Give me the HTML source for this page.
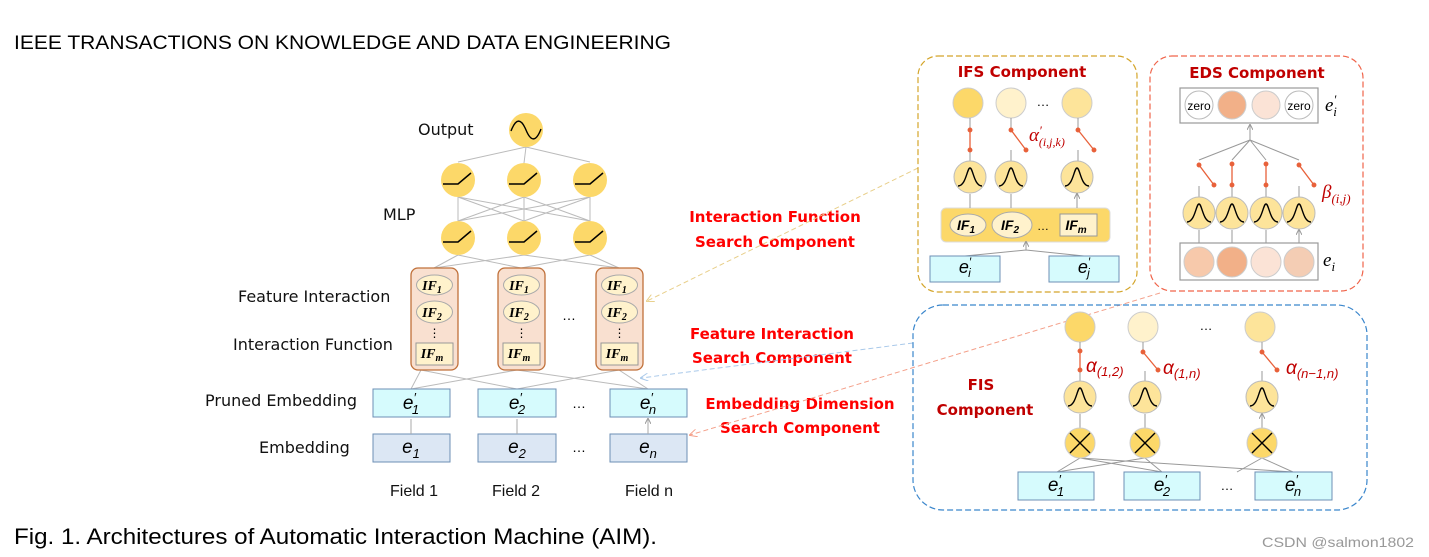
<!DOCTYPE html>
<html><head><meta charset="utf-8"><style>
html,body{margin:0;padding:0;background:#fff;}
svg{display:block;}
text{font-family:"Liberation Sans",sans-serif;}
.m{font-family:"Liberation Serif",serif;font-style:italic;}
.rb{font-family:"DejaVu Sans","Liberation Sans",sans-serif;font-weight:bold;fill:#f00;font-size:15px;}
.db{font-family:"DejaVu Sans","Liberation Sans",sans-serif;font-weight:bold;fill:#c00000;font-size:15px;}
.lb{font-family:"DejaVu Sans","Liberation Sans",sans-serif;font-size:16px;fill:#111;}
</style></head><body>
<svg width="1429" height="557" viewBox="0 0 1429 557" xmlns="http://www.w3.org/2000/svg">
<defs>
<g id="relu"><circle r="17" fill="#fcd869"/><path d="M-15,4 H0 L13,-7" stroke="#000" stroke-width="1.5" fill="none"/></g>
<g id="gau"><circle r="16" fill="#fde49a" stroke="#bbb" stroke-width="1"/><path d="M-12,9 C-4,9 -3,-9 0,-9 C3,-9 4,9 12,9" stroke="#000" stroke-width="1.4" fill="none"/></g>
<g id="mul"><circle r="15" fill="#fcd869" stroke="#ccc"/><path d="M-10,-10 L10,10 M10,-10 L-10,10" stroke="#000" stroke-width="1.4"/></g>
<marker id="ar" markerWidth="6" markerHeight="6" refX="5" refY="3" orient="auto"><path d="M0,0 L6,3 L0,6" fill="none" stroke="#999" stroke-width="1"/></marker>
<marker id="ay" markerWidth="8" markerHeight="8" refX="7" refY="4" orient="auto"><path d="M0,0 L8,4 L0,8" fill="none" stroke="#e8cf8a" stroke-width="1"/></marker>
<marker id="ab" markerWidth="8" markerHeight="8" refX="7" refY="4" orient="auto"><path d="M0,0 L8,4 L0,8" fill="none" stroke="#a9c9ea" stroke-width="1"/></marker>
<marker id="ao" markerWidth="8" markerHeight="8" refX="7" refY="4" orient="auto"><path d="M0,0 L8,4 L0,8" fill="none" stroke="#f4a08a" stroke-width="1"/></marker>
</defs>

<text x="14" y="49" font-size="19" textLength="657" lengthAdjust="spacingAndGlyphs">IEEE TRANSACTIONS ON KNOWLEDGE AND DATA ENGINEERING</text>
<text x="14" y="544" font-size="22" textLength="643" lengthAdjust="spacingAndGlyphs">Fig. 1. Architectures of Automatic Interaction Machine (AIM).</text>
<text x="1262" y="547" font-size="14" fill="#999" textLength="152" lengthAdjust="spacingAndGlyphs">CSDN @salmon1802</text>

<g stroke="#bbb" stroke-width="1" fill="none">
<path d="M526,147 L458,162 M526,147 L524,163 M526,147 L590,162"/>
<path d="M458,197 V221 M524,197 V221 M590,197 V221 M458,197 L524,221 M458,197 L590,221 M524,197 L458,221 M524,197 L590,221 M590,197 L458,221 M590,197 L524,221"/>
<path d="M458,255 L434,268 M524,255 L434,268 M458,255 L521,268 M590,255 L521,268 M524,255 L619,268 M590,255 L619,268"/>
<path d="M421,370 L411,389 M421,370 L517,389 M517,370 L411,389 M517,370 L648,389 M619,370 L517,389 M619,370 L648,389"/>
</g>
<circle cx="526" cy="130" r="17" fill="#fcd869"/>
<path d="M511,131 C516,118 521,118 526,130 C531,142 536,142 541,129" stroke="#000" stroke-width="1.4" fill="none"/>
<use href="#relu" x="458" y="180"/><use href="#relu" x="524" y="180"/><use href="#relu" x="590" y="180"/>
<use href="#relu" x="458" y="238"/><use href="#relu" x="524" y="238"/><use href="#relu" x="590" y="238"/>

<g id="ifb">
<rect x="411" y="268" width="47" height="102" rx="7" fill="#f9e0d0" stroke="#c0703a" stroke-width="1.3"/>
<ellipse cx="434.5" cy="285" rx="18" ry="10" fill="#fff2cc" stroke="#aaa"/>
<text x="432" y="290" class="m" font-size="14" font-weight="bold" text-anchor="middle">IF<tspan font-size="10" dy="3">1</tspan></text>
<ellipse cx="434.5" cy="312" rx="18" ry="11" fill="#fff2cc" stroke="#aaa"/>
<text x="432" y="317" class="m" font-size="14" font-weight="bold" text-anchor="middle">IF<tspan font-size="10" dy="3">2</tspan></text>
<text x="434.5" y="337" font-size="12" text-anchor="middle">⋮</text>
<rect x="416" y="343" width="37" height="22" fill="#fff2cc" stroke="#999"/>
<text x="432" y="358" class="m" font-size="14" font-weight="bold" text-anchor="middle">IF<tspan font-size="10" dy="3">m</tspan></text>
</g>
<use href="#ifb" x="87"/><use href="#ifb" x="185"/>
<text x="569" y="320" font-size="14" text-anchor="middle">…</text>

<text x="418" y="135" class="lb">Output</text>
<text x="383" y="220" class="lb">MLP</text>
<text x="238" y="302" class="lb">Feature Interaction</text>
<text x="233" y="350" class="lb">Interaction Function</text>
<text x="205" y="406" class="lb">Pruned Embedding</text>
<text x="259" y="453" class="lb">Embedding</text>

<g stroke="#6d8fb5" stroke-width="1">
<rect x="373" y="389" width="77" height="28" fill="#d6fbfd"/><rect x="478" y="389" width="78" height="28" fill="#d6fbfd"/><rect x="610" y="389" width="77" height="28" fill="#d6fbfd"/>
<rect x="373" y="434" width="77" height="28" fill="#dce7f4"/><rect x="478" y="434" width="78" height="28" fill="#dce7f4"/><rect x="610" y="434" width="77" height="28" fill="#dce7f4"/>
</g>
<g stroke="#aaa"><path d="M411,434 V419 M517,434 V419 M648,434 V419" marker-end="url(#ar)"/></g>
<g class="m" font-size="19" text-anchor="middle">
<text x="411" y="409">e<tspan font-size="13" dy="-7">′</tspan><tspan font-size="13" dx="-4" dy="12">1</tspan></text>
<text x="517" y="409">e<tspan font-size="13" dy="-7">′</tspan><tspan font-size="13" dx="-4" dy="12">2</tspan></text>
<text x="648" y="409">e<tspan font-size="13" dy="-7">′</tspan><tspan font-size="13" dx="-4" dy="12">n</tspan></text>
<text x="411" y="453">e<tspan font-size="13" dy="5">1</tspan></text>
<text x="517" y="453">e<tspan font-size="13" dy="5">2</tspan></text>
<text x="648" y="453">e<tspan font-size="13" dy="5">n</tspan></text>
</g>
<text x="579" y="408" font-size="14" text-anchor="middle">…</text>
<text x="579" y="452" font-size="14" text-anchor="middle">…</text>
<g class="lb" text-anchor="middle"><text x="414" y="496">Field 1</text><text x="516" y="496">Field 2</text><text x="649" y="496">Field n</text></g>

<text x="775" y="222" class="rb" text-anchor="middle">Interaction Function</text>
<text x="775" y="247" class="rb" text-anchor="middle">Search Component</text>
<text x="772" y="339" class="rb" text-anchor="middle">Feature Interaction</text>
<text x="772" y="363" class="rb" text-anchor="middle">Search Component</text>
<text x="800" y="409" class="rb" text-anchor="middle">Embedding Dimension</text>
<text x="800" y="433" class="rb" text-anchor="middle">Search Component</text>

<path d="M918,168 L647,301" stroke="#e8cf8a" stroke-dasharray="5,3" fill="none" marker-end="url(#ay)"/>
<path d="M913,343 L641,378" stroke="#a9c9ea" stroke-dasharray="5,3" fill="none" marker-end="url(#ab)"/>
<path d="M1160,293 L690,435" stroke="#f4a08a" stroke-dasharray="5,3" fill="none" marker-end="url(#ao)"/>

<rect x="918" y="56" width="219" height="236" rx="20" fill="none" stroke="#d4a52a" stroke-dasharray="6,3" stroke-width="1.2"/>
<text x="1022" y="77" class="db" text-anchor="middle">IFS Component</text>
<circle cx="968" cy="103" r="15" fill="#fcd869" stroke="#ccc"/>
<circle cx="1011" cy="103" r="15" fill="#fff2cc" stroke="#ccc"/>
<circle cx="1077" cy="103" r="15" fill="#fde49a" stroke="#ccc"/>
<text x="1043" y="106" font-size="13" text-anchor="middle">…</text>
<g stroke="#999"><path d="M970,118 V130 M970,150 V161 M1011,118 V130 M1011,150 V161 M1078,118 V130 M1078,150 V161"/></g>
<g stroke="#e8613a" stroke-width="1.3" fill="#e8613a"><path d="M970,130 V150"/><circle cx="970" cy="130" r="1.8"/><circle cx="970" cy="150" r="1.8"/>
<path d="M1011,130 L1026,150"/><circle cx="1011" cy="130" r="1.8"/><circle cx="1026" cy="150" r="1.8"/>
<path d="M1078,130 L1094,150"/><circle cx="1078" cy="130" r="1.8"/><circle cx="1094" cy="150" r="1.8"/></g>
<text x="1029" y="141" class="m" font-size="19" fill="#c00000">α<tspan font-size="13" dy="-6">′</tspan><tspan font-size="12" dx="-3" dy="11">(i,j,k)</tspan></text>
<use href="#gau" x="970" y="177"/><use href="#gau" x="1011" y="177"/><use href="#gau" x="1077" y="177"/>
<rect x="941" y="208" width="169" height="34" rx="5" fill="#fcd869" stroke="#ddd"/>
<g stroke="#999"><path d="M970,208 V194 M1011,208 V194 M1077,208 V194" marker-end="url(#ar)"/>
<path d="M965,256 L1026,250 L1084,256 M1026,250 V242" fill="none" marker-end="url(#ar)"/></g>
<ellipse cx="968" cy="225" rx="18" ry="11" fill="#fff2cc" stroke="#aaa"/>
<ellipse cx="1012" cy="225" rx="20" ry="13" fill="#fff2cc" stroke="#aaa"/>
<rect x="1060" y="214" width="37" height="22" fill="#fff2cc" stroke="#999"/>
<g class="m" font-size="14" font-weight="bold" text-anchor="middle"><text x="966" y="230">IF<tspan font-size="10" dy="3">1</tspan></text><text x="1010" y="230">IF<tspan font-size="10" dy="3">2</tspan></text><text x="1076" y="230">IF<tspan font-size="10" dy="3">m</tspan></text></g>
<text x="1043" y="230" font-size="12" text-anchor="middle">…</text>
<rect x="930" y="256" width="70" height="26" fill="#d6fbfd" stroke="#6d8fb5"/>
<rect x="1049" y="256" width="70" height="26" fill="#d6fbfd" stroke="#6d8fb5"/>
<g class="m" font-size="18" text-anchor="middle"><text x="965" y="273">e<tspan font-size="12" dy="-7">′</tspan><tspan font-size="12" dx="-3" dy="11">i</tspan></text><text x="1084" y="273">e<tspan font-size="12" dy="-7">′</tspan><tspan font-size="12" dx="-3" dy="11">j</tspan></text></g>

<rect x="1150" y="56" width="213" height="235" rx="22" fill="none" stroke="#f0644a" stroke-dasharray="6,3" stroke-width="1.2"/>
<text x="1257" y="78" class="db" text-anchor="middle">EDS Component</text>
<rect x="1180" y="88" width="138" height="35" fill="#fff" stroke="#999" stroke-width="1.2"/>
<circle cx="1199" cy="105" r="14" fill="#fff" stroke="#bbb"/><circle cx="1232" cy="105" r="14" fill="#f2b088" stroke="#ccc"/>
<circle cx="1266" cy="105" r="14" fill="#fbe3d6" stroke="#ccc"/><circle cx="1299" cy="105" r="14" fill="#fff" stroke="#bbb"/>
<text x="1199" y="110" font-size="12" text-anchor="middle">zero</text><text x="1299" y="110" font-size="12" text-anchor="middle">zero</text>
<text x="1325" y="111" class="m" font-size="19">e<tspan font-size="13" dy="-7">′</tspan><tspan font-size="13" dx="-3" dy="12">i</tspan></text>
<g stroke="#999" fill="none"><path d="M1250,140 V125" marker-end="url(#ar)"/>
<path d="M1250,140 L1199,160 M1250,140 L1232,160 M1250,140 L1266,160 M1250,140 L1299,160"/>
<path d="M1199,197 V186 M1232,197 V186 M1266,197 V186 M1299,197 V186"/>
<path d="M1199,243 V230 M1232,243 V230 M1266,243 V230 M1299,243 V230" marker-end="url(#ar)"/></g>
<g stroke="#e8613a" stroke-width="1.3" fill="#e8613a">
<path d="M1199,165 L1214,185"/><circle cx="1199" cy="165" r="1.8"/><circle cx="1214" cy="185" r="1.8"/>
<path d="M1232,164 V185"/><circle cx="1232" cy="164" r="1.8"/><circle cx="1232" cy="185" r="1.8"/>
<path d="M1266,164 V185"/><circle cx="1266" cy="164" r="1.8"/><circle cx="1266" cy="185" r="1.8"/>
<path d="M1299,165 L1314,185"/><circle cx="1299" cy="165" r="1.8"/><circle cx="1314" cy="185" r="1.8"/></g>
<text x="1322" y="198" class="m" font-size="19" fill="#c00000">β<tspan font-size="13" dy="5">(i,j)</tspan></text>
<use href="#gau" x="1199" y="213"/><use href="#gau" x="1232" y="213"/><use href="#gau" x="1266" y="213"/><use href="#gau" x="1299" y="213"/>
<rect x="1180" y="243" width="138" height="37" fill="#fff" stroke="#999" stroke-width="1.2"/>
<circle cx="1199" cy="262" r="15" fill="#f7c9ab" stroke="#ccc"/><circle cx="1232" cy="262" r="15" fill="#f2b088" stroke="#ccc"/>
<circle cx="1266" cy="262" r="15" fill="#fbe3d6" stroke="#ccc"/><circle cx="1299" cy="262" r="15" fill="#f4cdb4" stroke="#ccc"/>
<text x="1323" y="266" class="m" font-size="19">e<tspan font-size="13" dy="5">i</tspan></text>

<rect x="913" y="305" width="454" height="205" rx="30" fill="none" stroke="#3a86cc" stroke-dasharray="6,3" stroke-width="1.2"/>
<text x="981" y="390" class="db" font-size="16" text-anchor="middle">FIS</text>
<text x="985" y="415" class="db" font-size="16" text-anchor="middle">Component</text>
<circle cx="1080" cy="327" r="15" fill="#fcd869" stroke="#ccc"/>
<circle cx="1143" cy="327" r="15" fill="#fff2cc" stroke="#ccc"/>
<circle cx="1260" cy="327" r="15" fill="#fde49a" stroke="#ccc"/>
<text x="1206" y="330" font-size="13" text-anchor="middle">…</text>
<g stroke="#999" fill="none"><path d="M1080,342 V351 M1080,370 V381 M1143,342 V352 M1145,371 V381 M1262,342 V352 M1262,371 V381"/>
<path d="M1080,428 V414 M1145,428 V414 M1262,428 V414" marker-end="url(#ar)"/>
<path d="M1057,472 L1080,458 L1162,472 M1162,472 L1145,458 L1057,472 M1080,458 L1293,472 M1237,472 L1262,458 L1293,472"/></g>
<g stroke="#e8613a" stroke-width="1.3" fill="#e8613a">
<path d="M1080,351 V370"/><circle cx="1080" cy="351" r="1.8"/><circle cx="1080" cy="370" r="1.8"/>
<path d="M1143,352 L1158,370"/><circle cx="1143" cy="352" r="1.8"/><circle cx="1158" cy="370" r="1.8"/>
<path d="M1262,352 L1277,370"/><circle cx="1262" cy="352" r="1.8"/><circle cx="1277" cy="370" r="1.8"/></g>
<g class="m" fill="#c00000"><text x="1086" y="372" font-size="19">α<tspan font-size="13" dy="4">(1,2)</tspan></text>
<text x="1163" y="374" font-size="19">α<tspan font-size="13" dy="4">(1,n)</tspan></text>
<text x="1286" y="374" font-size="19">α<tspan font-size="13" dy="4">(n−1,n)</tspan></text></g>
<use href="#gau" x="1080" y="397"/><use href="#gau" x="1145" y="397"/><use href="#gau" x="1262" y="397"/>
<use href="#mul" x="1080" y="443"/><use href="#mul" x="1145" y="443"/><use href="#mul" x="1262" y="443"/>
<rect x="1018" y="472" width="76" height="28" fill="#d6fbfd" stroke="#6d8fb5"/>
<rect x="1124" y="472" width="76" height="28" fill="#d6fbfd" stroke="#6d8fb5"/>
<rect x="1255" y="472" width="77" height="28" fill="#d6fbfd" stroke="#6d8fb5"/>
<g class="m" font-size="19" text-anchor="middle">
<text x="1056" y="491">e<tspan font-size="13" dy="-7">′</tspan><tspan font-size="13" dx="-4" dy="12">1</tspan></text>
<text x="1162" y="491">e<tspan font-size="13" dy="-7">′</tspan><tspan font-size="13" dx="-4" dy="12">2</tspan></text>
<text x="1293" y="491">e<tspan font-size="13" dy="-7">′</tspan><tspan font-size="13" dx="-4" dy="12">n</tspan></text></g>
<text x="1227" y="490" font-size="13" text-anchor="middle">…</text>
</svg>
</body></html>
